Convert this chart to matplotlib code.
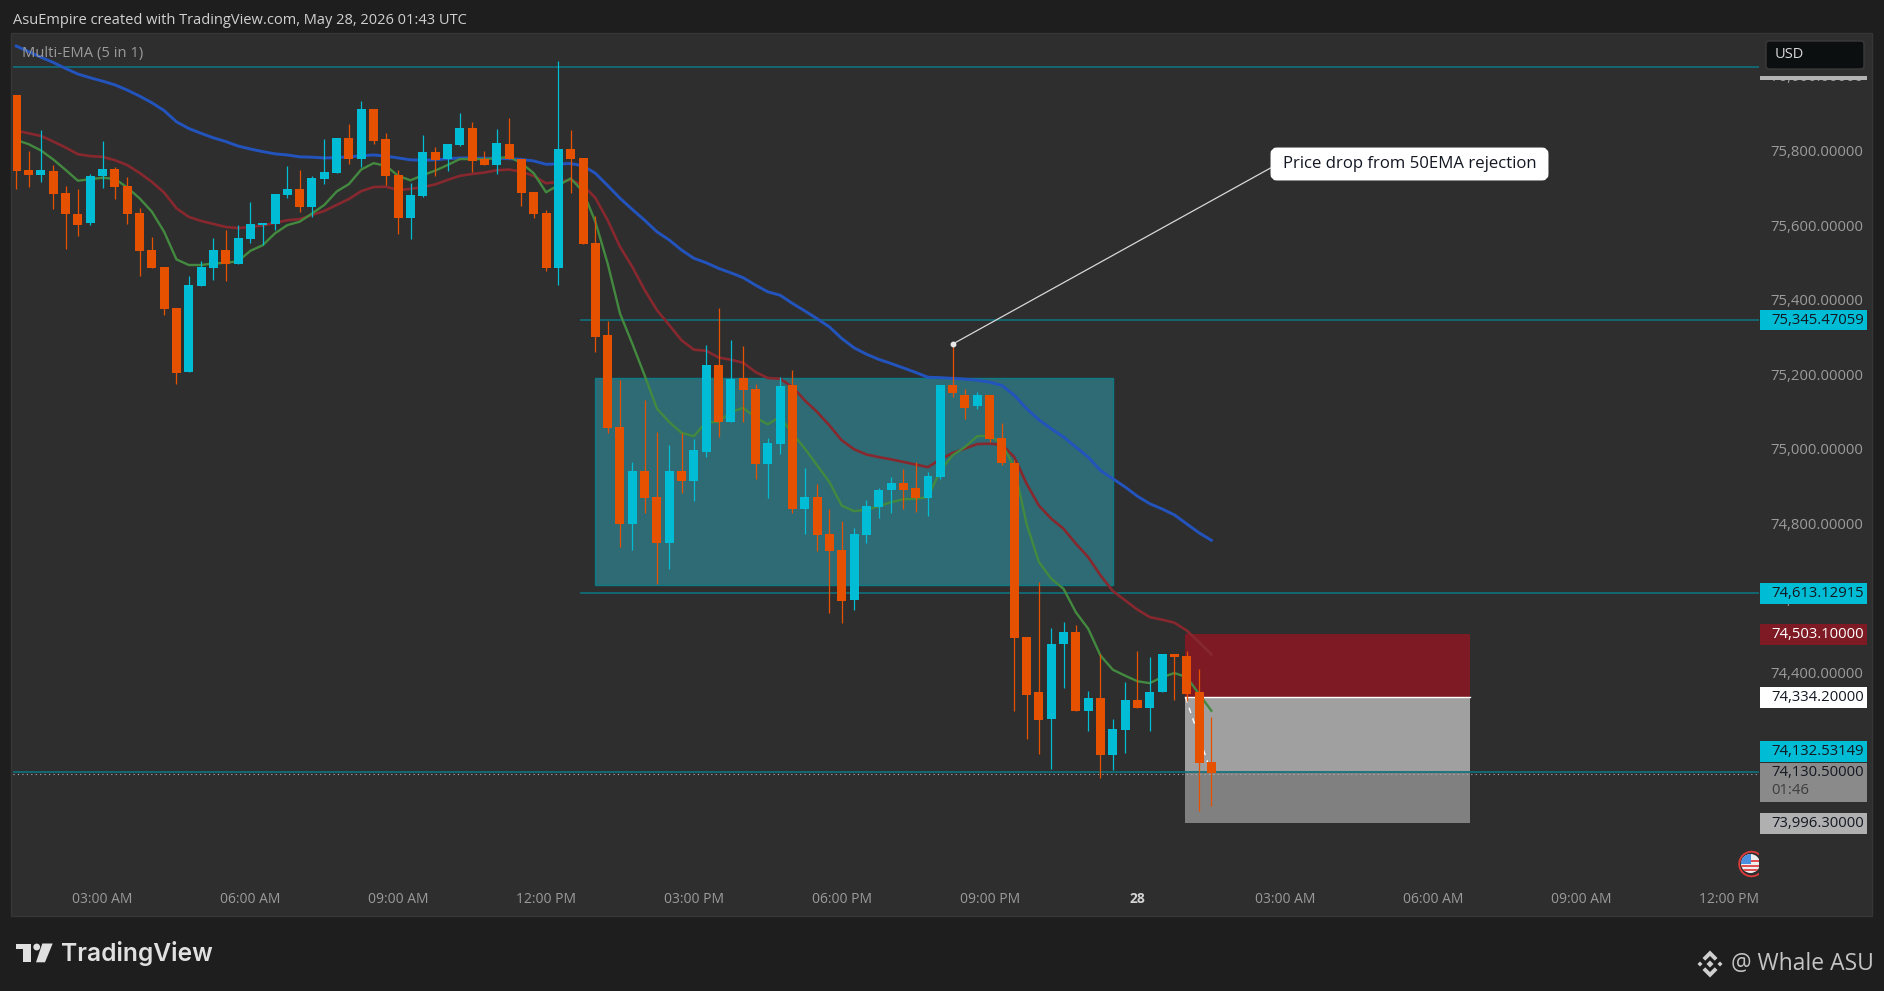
import matplotlib
matplotlib.use('Agg')
import matplotlib.pyplot as plt
from matplotlib.patches import Rectangle, Circle, Polygon, FancyBboxPatch
from matplotlib.transforms import blended_transform_factory

plt.rcParams['font.family'] = ['Open Sans', 'DejaVu Sans']

# 15 minute candles, bar 0 is 01:15 AM
opens = [75949, 75748, 75734, 75745, 75686, 75630, 75605, 75732, 75750, 75705,
         75632, 75533, 75487, 75377, 75205, 75436, 75485, 75533, 75495, 75562,
         75600, 75603, 75681, 75697, 75648, 75723, 75740, 75833, 75777, 75911,
         75831, 75734, 75619, 75678, 75796, 75777, 75815, 75860, 75777, 75761,
         75817, 75777, 75689, 75632, 75485, 75804, 75780, 75552, 75305, 75058,
         74798, 74940, 74870, 74749, 74942, 74913, 74993, 75224, 75071, 75189,
         75160, 74959, 75012, 75171, 74838, 74870, 74771, 74728, 74596, 74768,
         74843, 74889, 74908, 74894, 74867, 74924, 75171, 75144, 75114, 75144,
         75028, 74961, 74497, 74347, 74277, 74476, 74508, 74296, 74333, 74178,
         74247, 74328, 74306, 74347, 74449, 74446, 74347, 74161]
highs = [75949, 75799, 75855, 75761, 75705, 75698, 75736, 75825, 75755, 75728,
         75647, 75568, 75487, 75377, 75463, 75503, 75565, 75586, 75600, 75662,
         75605, 75683, 75758, 75748, 75732, 75831, 75833, 75871, 75933, 75911,
         75847, 75748, 75713, 75842, 75809, 75817, 75901, 75876, 75799, 75858,
         75887, 75777, 75689, 75640, 76040, 75855, 75780, 75624, 75342, 75184,
         74964, 75130, 75044, 75010, 75042, 75026, 75278, 75377, 75291, 75275,
         75173, 75028, 75192, 75211, 74948, 74905, 74840, 74806, 74787, 74862,
         74894, 74924, 74945, 74964, 74937, 75171, 75281, 75160, 75152, 75144,
         75069, 74969, 74497, 74642, 74521, 74537, 74529, 74352, 74451, 74277,
         74374, 74457, 74443, 74449, 74451, 74459, 74411, 74280]
lows = [75697, 75703, 75716, 75643, 75536, 75570, 75600, 75700, 75670, 75603,
        75463, 75485, 75358, 75173, 75205, 75436, 75452, 75450, 75495, 75552,
        75546, 75586, 75672, 75635, 75621, 75710, 75740, 75764, 75756, 75817,
        75707, 75576, 75562, 75675, 75732, 75745, 75812, 75742, 75761, 75737,
        75777, 75651, 75619, 75477, 75439, 75686, 75549, 75259, 75042, 74738,
        74730, 74827, 74639, 74677, 74881, 74859, 74977, 75031, 75071, 75071,
        74918, 74867, 74985, 74827, 74773, 74725, 74559, 74532, 74569, 74747,
        74814, 74827, 74838, 74832, 74819, 74918, 75138, 75079, 75106, 75018,
        74956, 74298, 74221, 74183, 74143, 74360, 74296, 74245, 74119, 74140,
        74186, 74306, 74245, 74347, 74328, 74325, 74030, 74043]
closes = [75745, 75734, 75748, 75683, 75630, 75600, 75732, 75750, 75702, 75630,
          75530, 75485, 75375, 75203, 75439, 75487, 75533, 75495, 75565, 75603,
          75605, 75683, 75697, 75648, 75726, 75742, 75833, 75777, 75911, 75825,
          75732, 75619, 75681, 75796, 75774, 75817, 75860, 75772, 75761, 75820,
          75777, 75686, 75630, 75485, 75804, 75777, 75549, 75299, 75055, 74798,
          74940, 74867, 74749, 74942, 74913, 74996, 75224, 75071, 75187, 75157,
          74959, 75015, 75168, 74838, 74870, 74768, 74725, 74593, 74771, 74846,
          74889, 74908, 74891, 74867, 74926, 75171, 75149, 75109, 75144, 75026,
          74961, 74494, 74341, 74274, 74478, 74508, 74296, 74333, 74178, 74250,
          74328, 74306, 74349, 74449, 74443, 74344, 74159, 74130]

ema_blue = [76080, 76065, 76050, 76036, 76020, 76005, 75995, 75986, 75976, 75962,
            75946, 75928, 75907, 75877, 75859, 75846, 75834, 75824, 75812, 75804,
            75797, 75791, 75788, 75783, 75782, 75780, 75781, 75783, 75786, 75788,
            75785, 75780, 75775, 75774, 75775, 75778, 75780, 75780, 75779, 75779,
            75778, 75776, 75772, 75763, 75764, 75765, 75759, 75739, 75706, 75672,
            75642, 75613, 75582, 75560, 75533, 75511, 75499, 75484, 75472, 75459,
            75439, 75421, 75412, 75390, 75370, 75349, 75327, 75296, 75271, 75254,
            75240, 75229, 75217, 75205, 75192, 75191, 75189, 75187, 75184, 75179,
            75170, 75144, 75108, 75078, 75054, 75032, 75005, 74978, 74942, 74920,
            74898, 74873, 74853, 74839, 74823, 74799, 74775, 74755]
ema_red = [75853, 75846, 75839, 75824, 75808, 75790, 75785, 75783, 75774, 75761,
           75740, 75716, 75687, 75645, 75622, 75611, 75603, 75595, 75592, 75595,
           75599, 75606, 75613, 75616, 75627, 75638, 75654, 75670, 75691, 75702,
           75703, 75694, 75697, 75702, 75709, 75721, 75732, 75737, 75741, 75747,
           75749, 75743, 75732, 75712, 75716, 75721, 75707, 75673, 75613, 75542,
           75488, 75426, 75372, 75332, 75291, 75266, 75263, 75245, 75239, 75231,
           75206, 75190, 75188, 75166, 75130, 75099, 75063, 75023, 74999, 74985,
           74978, 74972, 74965, 74958, 74951, 74972, 74989, 75001, 75013, 75014,
           75011, 74978, 74907, 74848, 74813, 74786, 74746, 74710, 74661, 74619,
           74594, 74569, 74549, 74542, 74534, 74513, 74482, 74449]
ema_green = [75828, 75817, 75800, 75776, 75748, 75719, 75723, 75727, 75724, 75701,
             75672, 75636, 75582, 75508, 75493, 75493, 75497, 75499, 75503, 75531,
             75546, 75578, 75600, 75609, 75631, 75654, 75690, 75710, 75749, 75766,
             75759, 75732, 75720, 75734, 75746, 75761, 75777, 75777, 75777, 75779,
             75783, 75766, 75739, 75688, 75707, 75725, 75690, 75609, 75497, 75363,
             75282, 75197, 75108, 75072, 75043, 75034, 75072, 75072, 75099, 75110,
             75084, 75066, 75086, 75041, 75001, 74956, 74911, 74848, 74833, 74837,
             74846, 74857, 74865, 74866, 74871, 74942, 74983, 75005, 75034, 75035,
             75014, 74951, 74799, 74697, 74652, 74625, 74562, 74518, 74446, 74408,
             74392, 74377, 74372, 74388, 74399, 74388, 74343, 74298]

price_ticks = [76000, 75800, 75600, 75400, 75200, 75000, 74800, 74600, 74400, 74200]
time_bars = [7, 19, 31, 43, 55, 67, 79, 91, 103, 115, 127, 139]
time_labels = ['03:00 AM', '06:00 AM', '09:00 AM', '12:00 PM', '03:00 PM', '06:00 PM',
               '09:00 PM', '28', '03:00 AM', '06:00 AM', '09:00 AM', '12:00 PM']

top_level = 76024
resistance = 75345.47059
support = 74613.12915
lower_level = 74132.53149
last_price = 74130.5
stop_price = 74503.1
entry_price = 74334.2
target_price = 73996.3

BG = '#1e1e1e'
PANE = '#2e2e2e'
UP = '#00bcd4'
DOWN = '#e65100'
TEAL = '#0f6f7a'
W, H = 1884, 991


def px_axes(left, top, right, bottom, **kw):
    return fig.add_axes([left / W, 1 - bottom / H, (right - left) / W, (bottom - top) / H], **kw)


fig = plt.figure(figsize=(W / 100, H / 100), dpi=100, facecolor=BG)

# page furniture lives on full size axes measured in pixels
back = px_axes(0, 0, W, H, zorder=0)
back.set_xlim(0, W)
back.set_ylim(H, 0)
back.axis('off')
back.add_patch(Rectangle((11, 33), 1861, 883, fc=PANE, ec='#363636', lw=1))

ax = px_axes(13, 33, 1759, 880, zorder=1)
ax.patch.set_alpha(0)
ax.set_xlim(-0.268, 141.45)
ax.set_ylim(73844.2, 76115.0)
for s in ax.spines.values():
    s.set_visible(False)

bars = list(range(len(opens)))
colors = [UP if c >= o else DOWN for o, c in zip(opens, closes)]

# consolidation box
ax.add_patch(Rectangle((47, 74636), 42, 555, fc='#2e6b74', ec='#0e7a85', lw=1, zorder=1))

# long position
ax.add_patch(Rectangle((94.9, entry_price), 23.1, stop_price - entry_price, fc='#7e1a23', ec='none', zorder=1))
ax.add_patch(Rectangle((94.9, last_price), 23.1, entry_price - last_price, fc='#a0a0a0', ec='none', zorder=1))
ax.add_patch(Rectangle((94.9, target_price), 23.1, last_price - target_price, fc='#808080', ec='none', zorder=1))
ax.plot([94.9, 118], [entry_price, entry_price], color='white', lw=1, zorder=1.5)
ax.plot([94.9, 97], [entry_price, last_price], color='white', lw=1, ls=(0, (4, 4)), zorder=1.5)

ax.plot([-0.268, 141.45], [top_level, top_level], color=TEAL, lw=1.25, zorder=2)
ax.plot([45.8, 141.45], [resistance, resistance], color=TEAL, lw=1.25, zorder=2)
ax.plot([45.8, 141.45], [support, support], color=TEAL, lw=1.25, zorder=2)
ax.plot([-0.268, 141.45], [lower_level, lower_level], color=TEAL, lw=1.25, zorder=2)
ax.plot([-0.268, 141.45], [last_price - 3, last_price - 3], color='#a8b4b4', lw=0.8, ls=(0, (1, 3)), zorder=2)

ax.plot(bars, ema_blue, color='#2354bd', lw=2.1, zorder=3, solid_joinstyle='round')
ax.plot(bars, ema_red, color='#87282f', lw=1.9, zorder=3, solid_joinstyle='round')
ax.plot(bars, ema_green, color='#43893f', lw=1.7, zorder=3, solid_joinstyle='round')

ax.vlines(bars, lows, highs, colors=colors, lw=0.9, zorder=4)
tops = [max(o, c) for o, c in zip(opens, closes)]
bottoms = [min(o, c) for o, c in zip(opens, closes)]
ax.bar(bars, [t - b for t, b in zip(tops, bottoms)], bottom=bottoms, width=0.73, color=colors, lw=0, zorder=5)

# callout
ax.plot([76, 101.8], [75281, 75753], color='#d8d8d8', lw=0.9, zorder=6)
ax.plot([76], [75281], 'o', color='#e8e8e8', ms=3.2, zorder=7)
front = px_axes(0, 0, W, H, zorder=2)
front.set_xlim(0, W)
front.set_ylim(H, 0)
front.axis('off')
front.add_patch(FancyBboxPatch((1274, 151), 271, 26, boxstyle='round,pad=0,rounding_size=3',
                               fc='white', ec='white', lw=5))
front.text(1409.5, 164, 'Price drop from 50EMA rejection', color='#131722', fontsize=12.1,
           ha='center', va='center')

ax.yaxis.tick_right()
ax.set_yticks(price_ticks)
ax.set_yticklabels([f'{p:,.5f}' for p in price_ticks])
ax.tick_params(axis='y', length=0, pad=8.5, labelsize=10.7, labelcolor='#9b9b9b')
ax.set_xticks(time_bars)
ax.set_xticklabels(time_labels)
ax.tick_params(axis='x', length=0, pad=8.7, labelsize=10.0, labelcolor='#9b9b9b')
day = ax.get_xticklabels()[7]
day.set_color('#d4d4d4')
day.set_fontweight('bold')

# price tags on the right hand scale
tag_trans = blended_transform_factory(ax.transAxes, ax.transData)


def price_tag(center, text, fc, fg, height=56, sub=None):
    x0 = 1.0006
    ax.add_patch(Rectangle((x0, center - height / 2), 0.0613, height, transform=tag_trans,
                           fc=fc, ec='none', clip_on=False, zorder=10))
    if sub is None:
        ax.text(1.0069, center, text, transform=tag_trans, color=fg, fontsize=10.7,
                va='center', ha='left', clip_on=False, zorder=11)
    else:
        ax.text(1.0069, center + 26, text, transform=tag_trans, color=fg, fontsize=10.7,
                va='center', ha='left', clip_on=False, zorder=11)
        ax.text(1.0069, center - 22, sub, transform=tag_trans, color='#3d3d3d', fontsize=10.7,
                va='center', ha='left', clip_on=False, zorder=11)


price_tag(resistance, f'{resistance:,.5f}', UP, '#131722')
price_tag(support, f'{support:,.5f}', UP, '#131722')
price_tag(stop_price, f'{stop_price:,.5f}', '#7e1a23', 'white')
price_tag(entry_price, f'{entry_price:,.5f}', 'white', '#131722')
price_tag(74189, f'{lower_level:,.5f}', UP, '#131722')
price_tag(74106, f'{last_price:,.5f}', '#8a8a8a', '#131722', height=104, sub='01:46')
price_tag(target_price, f'{target_price:,.5f}', '#b0b0b0', '#131722')

# USD box and the grey sliver under it, hiding most of the top tick
front.add_patch(Rectangle((1760, 34), 110, 42, fc=PANE, ec='none'))
front.add_patch(Rectangle((1760, 76), 107, 4, fc='#b3b3b3', ec='none'))
front.add_patch(FancyBboxPatch((1766, 41), 98, 28, boxstyle='round,pad=0,rounding_size=3',
                               fc='#0c0f10', ec='#3a3a3a', lw=1))
front.text(1775, 54.5, 'USD', color='#d8d8d8', fontsize=10.5, va='center')

front.text(13, 20, 'AsuEmpire created with TradingView.com, May 28, 2026 01:43 UTC',
           color='#d0d0d0', fontsize=10.5, va='center')
front.text(22, 53.5, 'Multi-EMA (5 in 1)', color='#9b9b9b', fontsize=10.6, va='center')

# flag marker, cut off by the price scale
cut = Rectangle((1730, 845), 29, 40, transform=front.transData)
ring = Circle((1751.5, 864), 12.3, fc=PANE, ec='#e03c3c', lw=1.3)
disc = Circle((1750.5, 863.5), 9.5, fc='#eeeeee', ec='none')
front.add_patch(ring)
front.add_patch(disc)
ring.set_clip_path(cut)
disc.set_clip_path(cut)
for yy, col in [(859.5, '#e05050'), (864.5, '#e05050'), (869, '#e05050')]:
    stripe = Rectangle((1741, yy), 18, 2.3, fc=col, ec='none')
    front.add_patch(stripe)
    stripe.set_clip_path(disc)
canton = Rectangle((1741, 854), 10, 9.5, fc='#4a8fe0', ec='none')
front.add_patch(canton)
canton.set_clip_path(disc)

# TradingView logo
front.add_patch(Polygon([(15.7, 943.5), (30.7, 943.5), (30.7, 962.3), (22.7, 962.3), (22.7, 949), (15.7, 949)],
                        fc='#e0e0e0', ec='none'))
front.add_patch(Circle((36.7, 947), 3.4, fc='#e0e0e0', ec='none'))
front.add_patch(Polygon([(42.3, 943.5), (52.7, 943.5), (45, 962.3), (36, 962.3)], fc='#e0e0e0', ec='none'))
front.text(61.5, 954, 'TradingView', color='#e0e0e0', fontsize=17.7, fontweight='semibold',
           family=['Inter', 'DejaVu Sans'], va='center')

# exchange mark and handle
for pts in [[(1710, 950.5), (1717.5, 958), (1714.8, 960.7), (1710, 956), (1705.2, 960.7), (1702.5, 958)],
            [(1710, 977.5), (1717.5, 970), (1714.8, 967.3), (1710, 972), (1705.2, 967.3), (1702.5, 970)],
            [(1710, 960.5), (1713.5, 964), (1710, 967.5), (1706.5, 964)],
            [(1700, 961.5), (1702.5, 964), (1700, 966.5), (1697.5, 964)],
            [(1720, 961.5), (1722.5, 964), (1720, 966.5), (1717.5, 964)]]:
    front.add_patch(Polygon(pts, fc='#d0d0d0', ec='none'))
front.text(1731, 964, '@ Whale ASU', color='#c4c4c4', fontsize=16.5, va='center')

fig.savefig('out.png', dpi=100, facecolor=BG)
